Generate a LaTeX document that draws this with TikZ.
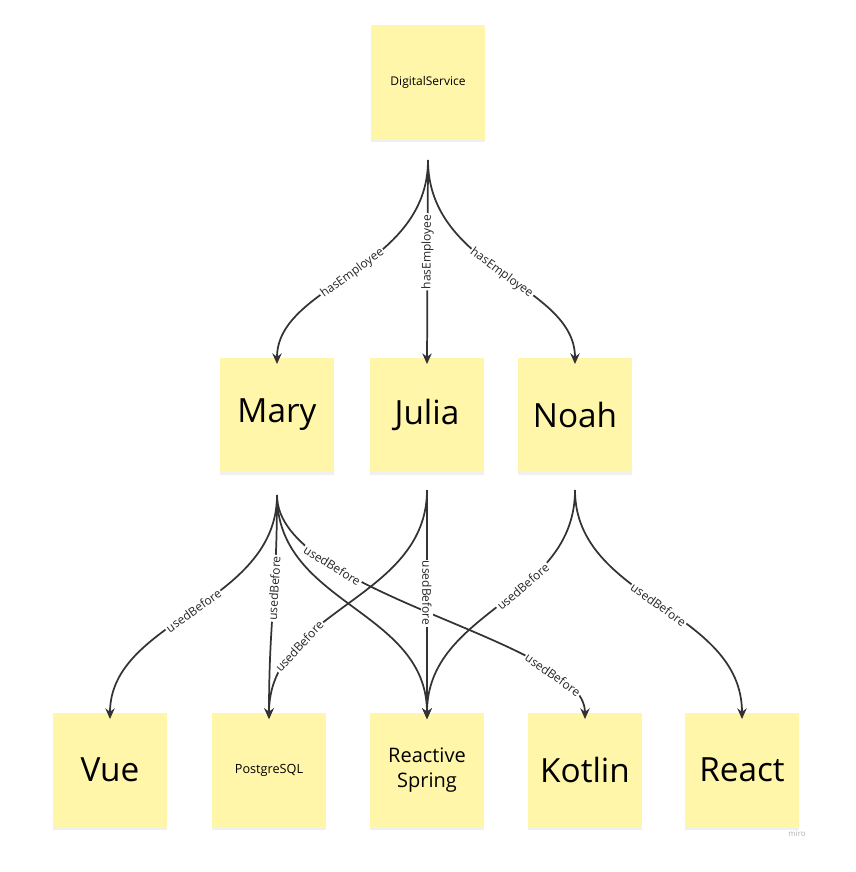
\documentclass[tikz,border=0pt]{standalone}
\usepackage{fontspec}
\setmainfont{Open Sans}
\usetikzlibrary{arrows.meta, shadows}
\definecolor{stickyyellow}{RGB}{255,246,170}

\begin{document}
\begin{tikzpicture}[x=0.75pt, y=-0.75pt,
    sticky/.style={rectangle, fill=stickyyellow, minimum size=86pt, inner sep=2pt, align=center,
        drop shadow={shadow xshift=0pt, shadow yshift=-2pt, opacity=0.12, fill=black!50}},
    bigname/.style={font=\fontsize{25}{29}\selectfont},
    edge/.style={-{Stealth[length=8pt, width=7pt]}, line width=1.3pt, draw=black!80},
    elabel/.style={font=\fontsize{9}{10}\selectfont, fill=white, inner sep=1pt, sloped, text=black!85}
]
\useasboundingbox (0,0) rectangle (856,872);

% Top
\node[sticky, font=\fontsize{9}{11}\selectfont] (digital) at (428,82) {DigitalService};

% Employees
\node[sticky, bigname] (mary) at (277,415) {Mary};
\node[sticky, bigname] (julia) at (427,415) {Julia};
\node[sticky, bigname] (noah) at (575,415) {Noah};

% Technologies
\node[sticky, bigname] (vue) at (110,770) {Vue};
\node[sticky, font=\fontsize{9.5}{11}\selectfont] (postgres) at (269,770) {PostgreSQL};
\node[sticky, font=\fontsize{15}{19}\selectfont] (spring) at (427,770) {Reactive\\Spring};
\node[sticky, bigname] (kotlin) at (585,770) {Kotlin};
\node[sticky, bigname] (react) at (742,770) {React};

% Edge start points
\coordinate (digital-out) at (428,160);
\coordinate (mary-out) at (277,495);
\coordinate (julia-out) at (427,490);
\coordinate (noah-out) at (575,490);

% hasEmployee
\draw[edge] (digital-out) .. controls +(0,110) and +(0,-80) .. ([yshift=-5pt]mary.north) node[elabel, pos=0.5] {hasEmployee};
\draw[edge] (digital-out) -- ([yshift=-5pt]julia.north) node[elabel, pos=0.45] {hasEmployee};
\draw[edge] (digital-out) .. controls +(0,110) and +(0,-80) .. ([yshift=-5pt]noah.north) node[elabel, pos=0.5] {hasEmployee};

% usedBefore
\draw[edge] (mary-out) .. controls +(0,110) and +(0,-100) .. ([yshift=-5pt]vue.north) node[elabel, pos=0.5] {usedBefore};
\draw[edge] (mary-out) .. controls +(0,100) and +(0,-100) .. ([yshift=-5pt]postgres.north) node[elabel, pos=0.4] {usedBefore};
\draw[edge] (mary-out) .. controls +(0,110) and +(0,-110) .. ([yshift=-5pt]spring.north);
\draw[edge] (mary-out) .. controls +(0,100) and +(0,-80) .. ([yshift=-5pt]kotlin.north) node[elabel, pos=0.27] {usedBefore} node[elabel, pos=0.8] {usedBefore};
\draw[edge] (julia-out) .. controls +(0,110) and +(0,-110) .. ([yshift=-5pt]postgres.north) node[elabel, pos=0.72] {usedBefore};
\draw[edge] (julia-out) -- ([yshift=-5pt]spring.north) node[elabel, pos=0.45] {usedBefore};
\draw[edge] (noah-out) .. controls +(0,110) and +(0,-110) .. ([yshift=-5pt]spring.north) node[elabel, pos=0.4] {usedBefore};
\draw[edge] (noah-out) .. controls +(0,110) and +(0,-110) .. ([yshift=-5pt]react.north) node[elabel, pos=0.5] {usedBefore};

% Watermark
\node[font=\fontsize{6}{7}\selectfont, text=black!30] (miro) at (797,834) {miro};
\end{tikzpicture}
\end{document}
